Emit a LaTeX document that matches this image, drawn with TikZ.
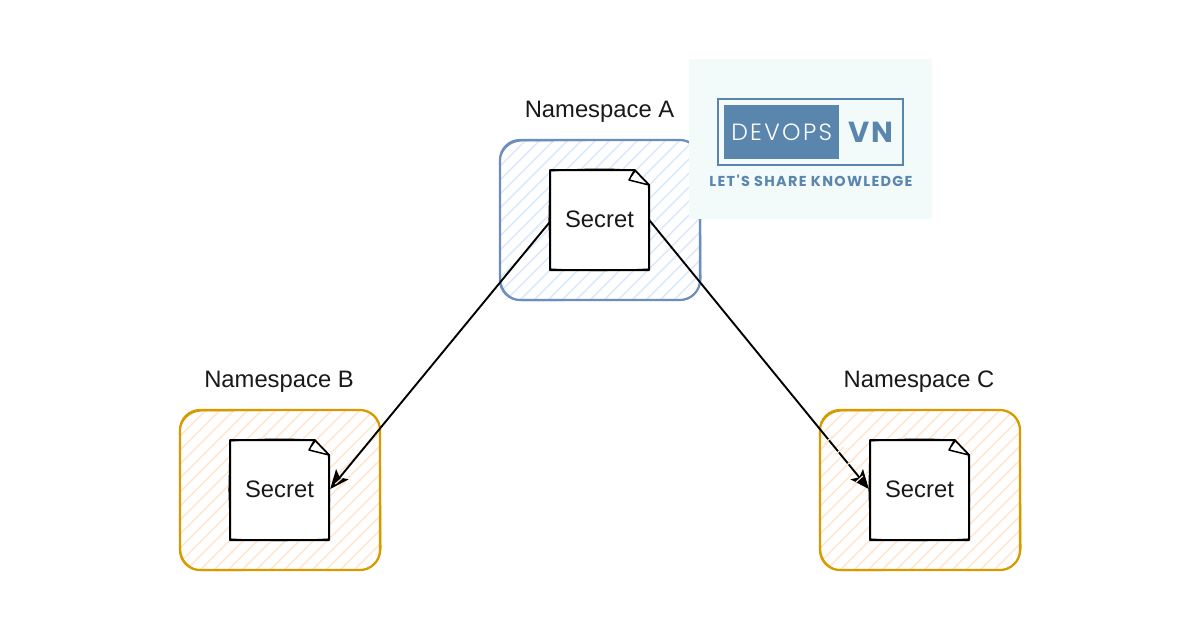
\documentclass[tikz,border=0pt]{standalone}
\usepackage{fontspec}
\setmainfont{Liberation Sans}
\newfontfamily\logolight[LetterSpace=10]{Poppins Light}
\newfontfamily\logobold[LetterSpace=4]{Poppins Bold}
\newfontfamily\logotag[LetterSpace=9]{Poppins Bold}
\usetikzlibrary{arrows.meta,calc}
\definecolor{blueS}{HTML}{6C8EBF}
\definecolor{blueF}{HTML}{DAE8FC}
\definecolor{orS}{HTML}{D79B00}
\definecolor{orF}{HTML}{FFE6CC}
\definecolor{logoC}{HTML}{5A86AE}
\definecolor{logoB}{HTML}{F3FBFA}
\tikzset{
  x=1pt,y=-1pt,
  labeltext/.style={font=\fontsize{23.8}{28}\selectfont,text=black!90,inner sep=0pt},
  secretnode/.style={font=\fontsize{23.8}{28}\selectfont,text=black!90,inner sep=0pt,minimum width=99pt,minimum height=100pt},
  sketchline/.style={draw=black,line width=2pt,line join=round},
  thinsketch/.style={draw=black,line width=1.1pt,line join=round},
  connector/.style={draw=black,line width=1.9pt},
  hatchline/.style={line width=1.4pt},
  streak/.style={orF,line width=1.2pt},
  nsbox/.style={minimum width=200pt,minimum height=160pt,inner sep=0pt,rounded corners=20pt},
}
% namespace box: name, cx, cy, stroke, fill
\newcommand{\nsarea}[5]{%
  \node[nsbox,draw=#4,line width=2.2pt,
    path picture={
      \foreach \k in {-16,...,16}{
        \draw[#5,hatchline] (\k*14-90,90) -- (\k*14+90,-90);
      }
    }] (#1) at (#2,#3) {};
  \draw[#4,line width=1.3pt,rounded corners=22pt]
    ($(#2,#3)+(-100.5,-79)$) -- ($(#2,#3)+(100,-80.5)$) -- ($(#2,#3)+(101,80)$) -- ($(#2,#3)+(-99.5,80.5)$) -- cycle;
}
% secret document: name, cx, cy
\newcommand{\secretdoc}[3]{%
  \begin{scope}[shift={(#2,#3)}]
    \fill[white] (-49.5,-50) -- (35,-50) -- (49.5,-35) -- (49.5,50) -- (-49.5,50) -- cycle;
    \draw[sketchline] (-49.5,-50) -- (35,-50) -- (49.5,-35) -- (49.5,50) -- (-49.5,50) -- cycle;
    \draw[thinsketch] (-50,-49) .. controls (-10,-51.5) and (10,-51.5) .. (36,-49.5);
    \draw[thinsketch] (-49.5,-50) -- (-50.5,0) -- (-49,50);
    \draw[thinsketch] (49,-34) -- (50,10) -- (49,50);
    \draw[thinsketch] (-49,49) .. controls (-10,51) and (10,51) .. (49,49);
    \fill[white,draw=black,line width=1.5pt,line join=round]
      (35,-50) -- (29.5,-40) -- (49.5,-35) -- cycle;
    \draw[black,line width=1.4pt] (31.5,-43.5) -- (35.5,-49);
    \node[secretnode] (#1) at (0,-1) {Secret};
  \end{scope}%
}
\begin{document}
\begin{tikzpicture}
\useasboundingbox (0,0) rectangle (1200,630);
\fill[white] (0,0) rectangle (1200,630);

\nsarea{nsA}{600}{220}{blueS}{blueF}
\nsarea{nsB}{280}{490}{orS}{orF}
\nsarea{nsC}{920}{490}{orS}{orF}

\secretdoc{secA}{599.5}{220}
\secretdoc{secB}{279.5}{490}
\secretdoc{secC}{919.5}{490}

\node[labeltext] (labA) at (599.5,112) {Namespace A};
\node[labeltext] (labB) at (279,382) {Namespace B};
\node[labeltext] (labC) at (919,382) {Namespace C};

\draw[connector,-{Stealth[length=19pt,width=16pt,inset=4pt]}] ([yshift=-3pt]secA.west) -- ([xshift=1pt]secB.east);
\draw[connector,-{Stealth[length=19pt,width=16pt,inset=4pt]}] ([yshift=-1pt]secA.east) -- ([xshift=-1pt]secC.west);

% sketch fill showing through the arrowheads and the line near them
\draw[streak] ($(secB.east)+(6,-5)$) -- ($(secB.east)+(13,-11)$);
\draw[streak] ($(secB.east)+(8,0)$) -- ($(secB.east)+(17,-7)$);
\draw[streak] ($(secC.west)+(-17,-4)$) -- ($(secC.west)+(-7,-13)$);
\foreach \d in {20,31,42}{
  \draw[streak] ($(secC.west)+(-\d-4,-\d-3)$) -- ($(secC.west)+(-\d+5,-\d-11)$);
}

% logo
\node[fill=logoB,minimum width=243pt,minimum height=160pt,inner sep=0pt] (logoBg) at (810.5,139) {};
\node[draw=logoC,line width=1.6pt,minimum width=184.5pt,minimum height=66pt,inner sep=0pt] (logoFrame) at (810.5,132) {};
\node[fill=logoC,minimum width=114.5pt,minimum height=54pt,inner sep=0pt] (logoBlock) at (781.7,132) {};
\node[text=white,inner sep=0pt,font=\logolight\fontsize{23.5}{26}\selectfont] (logoD) at (781.7,132) {DEVOPS};
\node[text=logoC,inner sep=0pt,font=\logobold\fontsize{29}{32}\selectfont] (logoV) at (871,132) {VN};
\node[text=logoC,inner sep=0pt,font=\logotag\fontsize{14.4}{16}\selectfont] (logoT) at (811,180.5) {LET'S SHARE KNOWLEDGE};
\end{tikzpicture}
\end{document}
